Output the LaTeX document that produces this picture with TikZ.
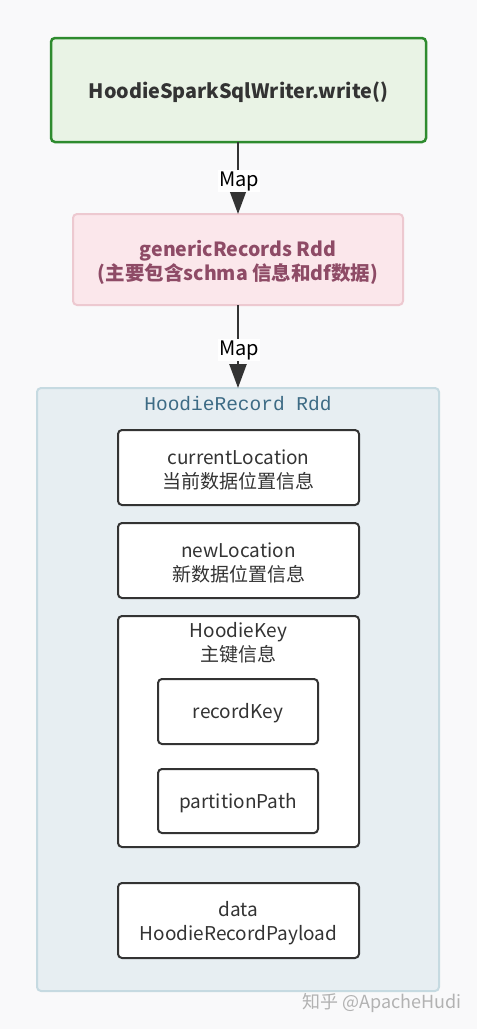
\documentclass[tikz,border=0pt]{standalone}
\usepackage{fontspec}
\setmainfont{Noto Sans CJK SC}
\newfontfamily\monofont{Liberation Mono}
\usetikzlibrary{arrows.meta}
\definecolor{bgc}{HTML}{F9F9FA}
\definecolor{greenline}{HTML}{2E8B2E}
\definecolor{greenfill}{HTML}{E9F3E5}
\definecolor{pinkline}{HTML}{EDC9D0}
\definecolor{pinkfill}{HTML}{FBE7EB}
\definecolor{pinktext}{HTML}{8E4B66}
\definecolor{contline}{HTML}{C6DAE1}
\definecolor{contfill}{HTML}{E7EEF2}
\definecolor{titlec}{HTML}{3D6B85}
\definecolor{darkc}{HTML}{333333}
\tikzset{
  x=1pt, y=-1pt,
  box/.style={draw=darkc, line width=2pt, rounded corners=4pt, fill=white},
  boxtext/.style={align=center, text=darkc, font=\fontsize{19}{24}\selectfont, inner sep=0pt},
  flow/.style={draw=darkc, line width=2.5pt, -{Triangle[width=17pt,length=24pt]}},
  maplabel/.style={fill=white, text=black, font=\fontsize{20}{22}\selectfont, inner sep=1pt}
}
\begin{document}
\begin{tikzpicture}
\fill[bgc] (0,0) rectangle (477,1029);
\useasboundingbox (0,0) rectangle (477,1029);
% top box
\draw[draw=greenline, fill=greenfill, line width=2.5pt, rounded corners=4pt] (51,38) rectangle (426,142);
\node[font=\bfseries\fontsize{19.8}{24}\selectfont, text=darkc] (write) at (238.5,92) {HoodieSparkSqlWriter.write()};
\coordinate (wb) at (238,142);
% pink box
\draw[draw=pinkline, fill=pinkfill, line width=2pt, rounded corners=4pt] (73,214) rectangle (403,305);
\node[font=\bfseries\fontsize{19.5}{24}\selectfont, text=pinktext, align=center] (gen) at (238,262) {genericRecords Rdd\\(主要包含schma 信息和df数据)};
\coordinate (gt) at (238,214);
\coordinate (gb) at (238,305);
% container
\draw[draw=contline, fill=contfill, line width=2pt, rounded corners=4pt] (37,388) rectangle (439,991);
\node[font=\monofont\fontsize{19.5}{22}\selectfont, text=titlec] (ctitle) at (238,404) {HoodieRecord Rdd};
\coordinate (ct) at (238,388);
% arrows
\draw[flow] (wb) -- (gt);
\node[maplabel] (m1) at (239,181) {Map};
\draw[flow] (gb) -- (ct);
\node[maplabel] (m2) at (239,350) {Map};
% inner boxes
\draw[box] (118,430) rectangle (359,505);
\node[boxtext] (cur) at (238.5,470) {currentLocation\\当前数据位置信息};
\draw[box] (118,523) rectangle (359,598);
\node[boxtext] (new) at (238.5,563) {newLocation\\新数据位置信息};
\draw[box] (118,616) rectangle (359,847);
\node[boxtext] (hk) at (238.5,643) {HoodieKey\\主键信息};
\draw[box] (158,679) rectangle (318,744);
\node[boxtext] (rk) at (238,713) {recordKey};
\draw[box] (158,769) rectangle (318,833);
\node[boxtext] (pp) at (238,803) {partitionPath};
\draw[box] (118,883) rectangle (359,958);
\node[boxtext] (data) at (238.5,923) {data\\HoodieRecordPayload};
% watermark
\node[font=\fontsize{18}{20}\selectfont, text=black!30, anchor=east] (wm) at (465,1003) {知乎 @ApacheHudi};
\end{tikzpicture}
\end{document}
